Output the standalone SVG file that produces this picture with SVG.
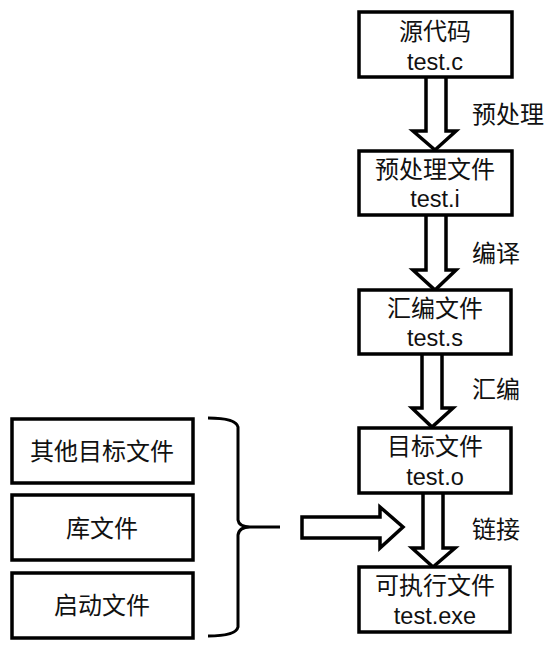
<svg xmlns="http://www.w3.org/2000/svg" width="558" height="649" viewBox="0 0 558 649">
<style>
.box{fill:#fff;stroke:#000;stroke-width:3.5}
.arr{fill:#fff;stroke:#000;stroke-width:3.5;stroke-linejoin:miter}
text{font-family:"Noto Sans CJK SC","Noto Sans",sans-serif;font-size:24px;fill:#111;text-anchor:middle}
.en{font-family:"Liberation Sans",Arial,sans-serif;font-size:23.5px}
.lbl{text-anchor:start}
</style>
<rect width="558" height="649" fill="#fff"/>
<g id="connectors">
<path class="arr" d="M426 77 V131 H413 L435 150 L456 131 H446 V77"/>
<path class="arr" d="M426 215 V270 H413 L435 290 L456 270 H446 V215"/>
<path class="arr" d="M422 354 V408 H412 L432 427 L453 408 H442 V354"/>
<path class="arr" d="M423 493 V548 H412 L433 567 L455 548 H443 V493"/>
<path class="arr" d="M302 517 H380 V507 L403 527 L380 548 V538 H302 Z"/>
<path d="M208 418 Q236 418 238 427 V520 Q239 527 250 527 H280 M250 527 Q239 527 238 535 V627 Q236 636 208 636" fill="none" stroke="#000" stroke-width="3"/>
<text class="lbl" x="472" y="123">预处理</text>
<text class="lbl" x="472" y="262">编译</text>
<text class="lbl" x="472" y="398">汇编</text>
<text class="lbl" x="472" y="538">链接</text>
</g>
<g id="n1"><rect class="box" x="359" y="12" width="153" height="65"/><text x="435" y="40">源代码</text><text class="en" x="435" y="70">test.c</text></g>
<g id="n2"><rect class="box" x="359" y="151" width="153" height="64"/><text x="435" y="178">预处理文件</text><text class="en" x="435" y="207">test.i</text></g>
<g id="n3"><rect class="box" x="359" y="290" width="152" height="64"/><text x="435" y="317">汇编文件</text><text class="en" x="435" y="346">test.s</text></g>
<g id="n4"><rect class="box" x="359" y="428" width="152" height="65"/><text x="435" y="455">目标文件</text><text class="en" x="435" y="485">test.o</text></g>
<g id="n5"><rect class="box" x="359" y="567" width="151" height="65"/><text x="435" y="594">可执行文件</text><text class="en" x="435" y="624">test.exe</text></g>
<g id="n6"><rect class="box" x="12" y="419" width="181" height="64"/><text x="102" y="460">其他目标文件</text></g>
<g id="n7"><rect class="box" x="12" y="495" width="181" height="65"/><text x="102" y="537">库文件</text></g>
<g id="n8"><rect class="box" x="12" y="573" width="181" height="65"/><text x="102" y="614">启动文件</text></g>
</svg>
